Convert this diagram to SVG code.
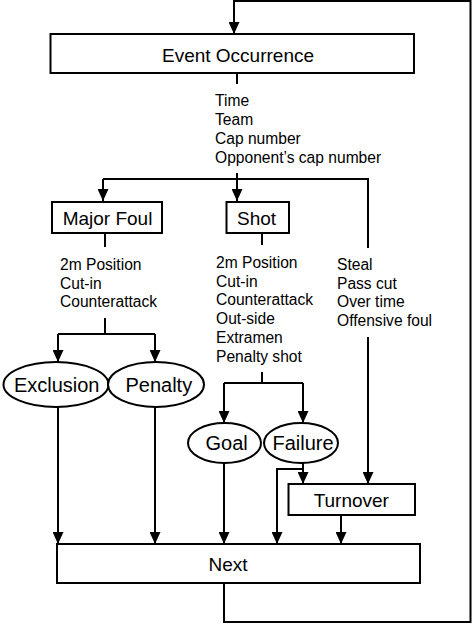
<svg xmlns="http://www.w3.org/2000/svg" width="474" height="626" viewBox="0 0 474 626">
<style>
  .box{fill:#fff;stroke:#000;stroke-width:2}
  .lbl{font-family:"Liberation Sans",Arial,sans-serif;font-size:19px;fill:#000;text-anchor:middle}
  .ell{font-family:"Liberation Sans",Arial,sans-serif;font-size:20px;fill:#000;text-anchor:middle}
  .lst{font-family:"Liberation Sans",Arial,sans-serif;font-size:15.6px;fill:#000}
  .ln{fill:none;stroke:#000;stroke-width:2}
</style>
<defs>
  <marker id="ah" markerWidth="11" markerHeight="12" refX="5.5" refY="12" orient="auto-start-reverse" markerUnits="userSpaceOnUse" viewBox="0 0 11 12">
    <path d="M0,0 L11,0 L5.5,12 Z" fill="#000" transform="rotate(0)"/>
  </marker>
  <marker id="a" markerWidth="12" markerHeight="11" refX="12" refY="5.5" orient="auto" markerUnits="userSpaceOnUse" viewBox="0 0 12 11">
    <path d="M0,0 L12,5.5 L0,11 Z" fill="#000"/>
  </marker>
</defs>
<g id="connectors">
  <path class="ln" d="M224,583 V622 H470.5 V1 H234 V34" marker-end="url(#a)"/>
  <path class="ln" d="M237,74 V84"/>
  <path class="ln" d="M237,173 V201" marker-end="url(#a)"/>
  <path class="ln" d="M103,179 H368 V248"/>
  <path class="ln" d="M103,179 V201" marker-end="url(#a)"/>
  <path class="ln" d="M105,233 V247"/>
  <path class="ln" d="M262,233 V245"/>
  <path class="ln" d="M105,318 V334"/>
  <path class="ln" d="M58,334 H155"/>
  <path class="ln" d="M58,334 V362" marker-end="url(#a)"/>
  <path class="ln" d="M155,334 V362" marker-end="url(#a)"/>
  <path class="ln" d="M262,372 V383"/>
  <path class="ln" d="M224,383 H303"/>
  <path class="ln" d="M224,383 V423" marker-end="url(#a)"/>
  <path class="ln" d="M303,383 V423" marker-end="url(#a)"/>
  <path class="ln" d="M368,337 V484" marker-end="url(#a)"/>
  <path class="ln" d="M58,407 V544" marker-end="url(#a)"/>
  <path class="ln" d="M155,407 V544" marker-end="url(#a)"/>
  <path class="ln" d="M224,463 V544" marker-end="url(#a)"/>
  <path class="ln" d="M303,463 V484" marker-end="url(#a)"/>
  <path class="ln" d="M303,469 H277 V544" marker-end="url(#a)"/>
  <path class="ln" d="M341,515 V544" marker-end="url(#a)"/>
</g>
<g id="event">
  <rect class="box" x="50.5" y="34" width="363.5" height="39"/>
  <text class="lbl" x="238" y="61.5">Event Occurrence</text>
</g>
<g id="event-attrs">
  <text class="lst" x="215" y="106">Time</text>
  <text class="lst" x="215" y="125">Team</text>
  <text class="lst" x="215" y="144">Cap number</text>
  <text class="lst" x="215" y="163">Opponent’s cap number</text>
</g>
<g id="majorfoul">
  <rect class="box" x="52" y="202" width="110" height="31"/>
  <text class="lbl" x="107.5" y="225">Major Foul</text>
</g>
<g id="majorfoul-attrs">
  <text class="lst" x="60" y="270">2m Position</text>
  <text class="lst" x="60" y="288.5">Cut-in</text>
  <text class="lst" x="60" y="307">Counterattack</text>
</g>
<g id="shot">
  <rect class="box" x="226.5" y="202" width="62.5" height="31"/>
  <text class="lbl" x="256.5" y="224.5">Shot</text>
</g>
<g id="shot-attrs">
  <text class="lst" x="216" y="268">2m Position</text>
  <text class="lst" x="216" y="286.7">Cut-in</text>
  <text class="lst" x="216" y="305.4">Counterattack</text>
  <text class="lst" x="216" y="324.1">Out-side</text>
  <text class="lst" x="216" y="342.8">Extramen</text>
  <text class="lst" x="216" y="361.5">Penalty shot</text>
</g>
<g id="turnover-attrs">
  <text class="lst" x="337" y="270">Steal</text>
  <text class="lst" x="337" y="288.7">Pass cut</text>
  <text class="lst" x="337" y="307.4">Over time</text>
  <text class="lst" x="337" y="326">Offensive foul</text>
</g>
<g id="exclusion">
  <ellipse class="box" cx="56" cy="384.5" rx="52.5" ry="22.5"/>
  <text class="ell" x="56.7" y="391.7">Exclusion</text>
</g>
<g id="penalty">
  <ellipse class="box" cx="156" cy="384.5" rx="48" ry="22.5"/>
  <text class="ell" x="158.8" y="391.7">Penalty</text>
</g>
<g id="goal">
  <ellipse class="box" cx="224.5" cy="443" rx="36.5" ry="20"/>
  <text class="ell" x="226.7" y="450">Goal</text>
</g>
<g id="failure">
  <ellipse class="box" cx="301" cy="443" rx="37" ry="20"/>
  <text class="ell" x="303" y="450">Failure</text>
</g>
<g id="turnover">
  <rect class="box" x="288.5" y="484" width="126.5" height="31"/>
  <text class="lbl" x="351.3" y="507">Turnover</text>
</g>
<g id="next">
  <rect class="box" x="57" y="544" width="363" height="39"/>
  <text class="lbl" x="228" y="571">Next</text>
</g>
</svg>
